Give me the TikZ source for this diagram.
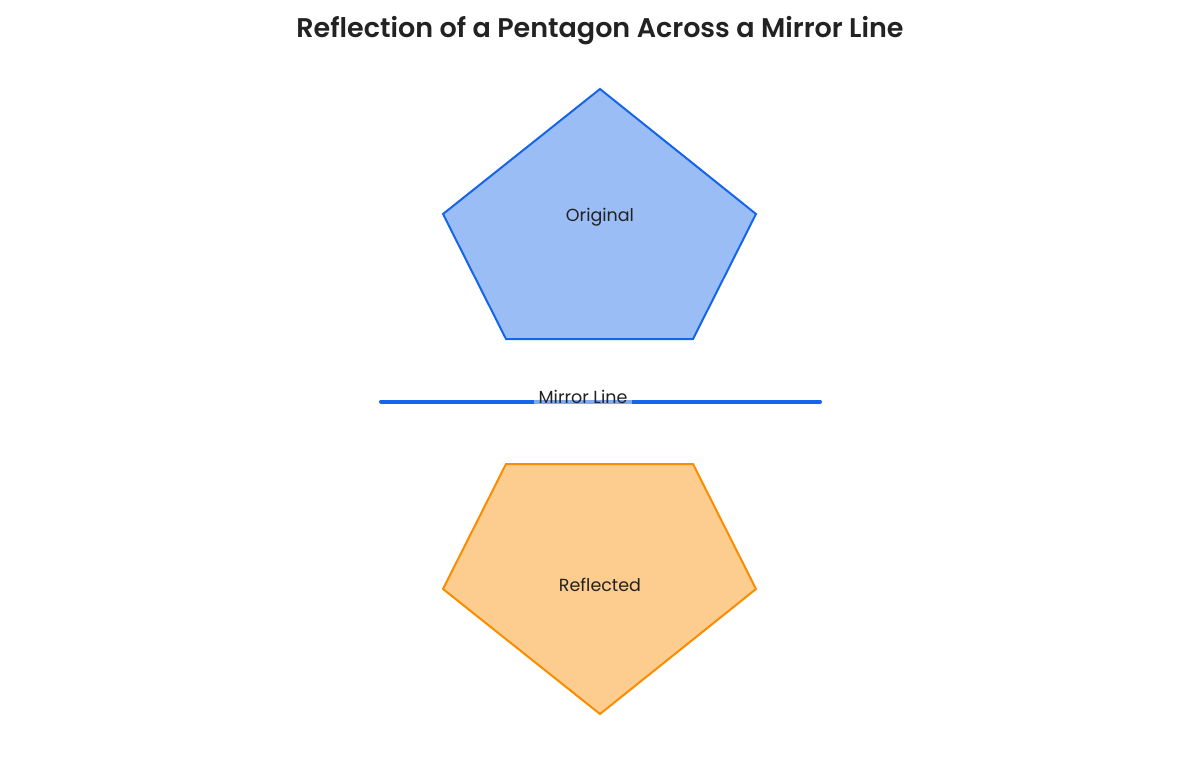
\documentclass[tikz,border=0pt]{standalone}
\usepackage{fontspec}
\setmainfont{Poppins}[BoldFont=Poppins SemiBold]
\definecolor{blueline}{HTML}{1565E8}
\definecolor{bluefill}{HTML}{9BBDF5}
\definecolor{orangeline}{HTML}{FB8C00}
\definecolor{orangefill}{HTML}{FDCD8F}
\definecolor{txt}{HTML}{222222}
\tikzset{
  shapeA/.style={draw=blueline, fill=bluefill, line width=2pt, line join=miter},
  shapeB/.style={draw=orangeline, fill=orangefill, line width=2pt, line join=miter},
  lbl/.style={text=txt, font=\fontsize{17.5}{20}\selectfont, inner sep=0pt, anchor=base},
}
\begin{document}
\begin{tikzpicture}[x=1pt,y=-1pt]
\useasboundingbox (0,0) rectangle (1200,763);
\node[text=txt, font=\fontsize{27}{30}\selectfont\bfseries, anchor=base, inner sep=0pt] (title) at (600,37.5) {Reflection of a Pentagon Across a Mirror Line};
% original pentagon
\coordinate (a1) at (600,89);
\coordinate (a2) at (756,214);
\coordinate (a3) at (693,339);
\coordinate (a4) at (506,339);
\coordinate (a5) at (443,214);
\draw[shapeA] (a1) -- (a2) -- (a3) -- (a4) -- (a5) -- cycle;
\node[lbl] (orig) at (600,221.5) {Original};
% reflected pentagon
\coordinate (b1) at (600,714);
\coordinate (b2) at (756,589);
\coordinate (b3) at (693,464);
\coordinate (b4) at (506,464);
\coordinate (b5) at (443,589);
\draw[shapeB] (b1) -- (b2) -- (b3) -- (b4) -- (b5) -- cycle;
\node[lbl] (refl) at (600,591.5) {Reflected};
% mirror line
\coordinate (m1) at (381,401.5);
\coordinate (m2) at (820,401.5);
\draw[blueline, line width=4pt, line cap=round] (m1) -- (m2);
\node[lbl, fill=white, fill opacity=0.45, text opacity=1, inner xsep=5pt, inner ysep=3pt] (mlab) at (583,403) {Mirror Line};
\end{tikzpicture}
\end{document}
